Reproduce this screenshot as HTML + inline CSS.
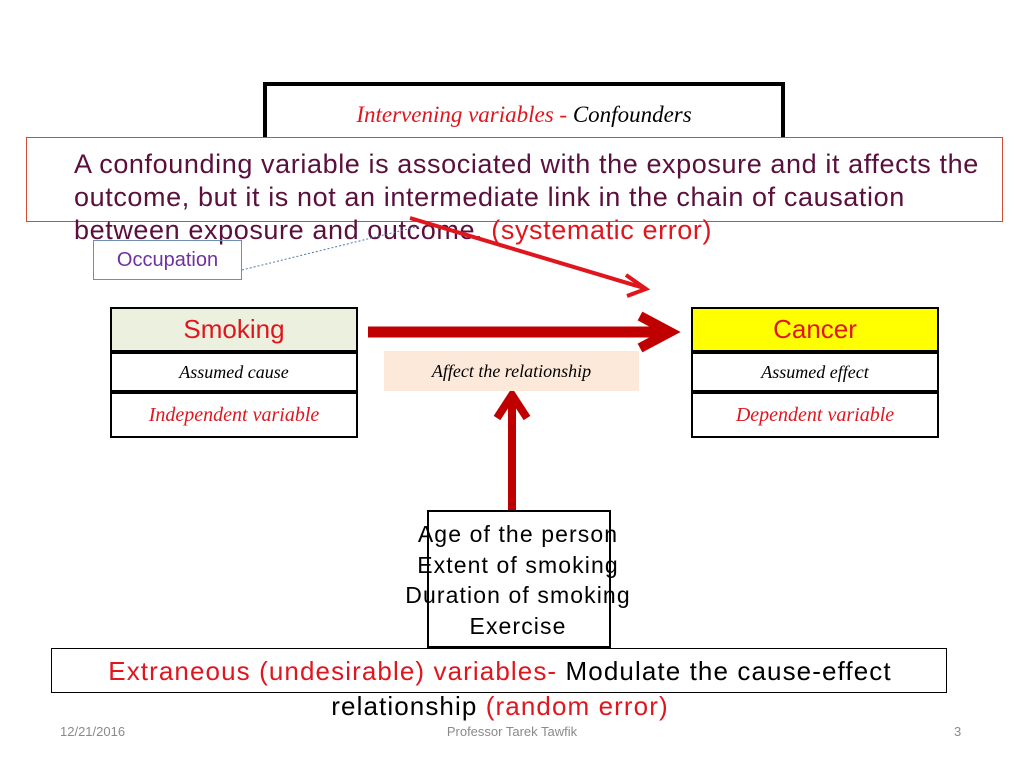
<!DOCTYPE html>
<html><head><meta charset="utf-8"><style>
body{margin:0;width:1024px;height:768px;background:#fff;position:relative;overflow:hidden;font-family:"Liberation Sans",sans-serif}
.a{position:absolute;box-sizing:border-box}
.c{display:flex;align-items:center;justify-content:center;text-align:center}
.serif{font-family:"Liberation Serif",serif;font-style:italic}
.red{color:#e0161e}
</style></head><body>
<div class="a c serif" style="left:263px;top:82px;width:522px;height:70px;border:4px solid #000;align-items:flex-start;padding-top:16px;font-size:23px"><span><span class="red">Intervening variables - </span>Confounders</span></div>
<div class="a" style="left:26px;top:137px;width:977px;height:85px;border:1px solid #d05030;background:#fff"></div>
<div class="a" style="left:74px;top:148px;width:960px;font-size:27px;line-height:33px;color:#5a0f3c;letter-spacing:0.6px;white-space:nowrap">A confounding variable is associated with the exposure and it affects the<br>outcome, but it is not an intermediate link in the chain of causation<br>between exposure and outcome. <span class="red">(systematic error)</span></div>
<div class="a c" style="left:93px;top:240px;width:149px;height:40px;border:1px solid #6f8fb0;color:#7030a0;font-size:20px">Occupation</div>
<svg class="a" style="left:0;top:0" width="1024" height="768">
<line x1="242" y1="270" x2="420" y2="226" stroke="#4a7ab0" stroke-width="1" stroke-dasharray="2,2"/>
<line x1="410" y1="218" x2="644" y2="288" stroke="#e0161e" stroke-width="4"/>
<polyline points="626,275 646,289 627,296" fill="none" stroke="#e0161e" stroke-width="4"/>
<line x1="368" y1="332" x2="668" y2="332" stroke="#c00000" stroke-width="11"/>
<polyline points="640,316 670,332 640,348" fill="none" stroke="#c00000" stroke-width="10" stroke-linejoin="miter"/>
<line x1="512" y1="512" x2="512" y2="398" stroke="#c00000" stroke-width="8"/>
<polyline points="497,418 512,395 527,418" fill="none" stroke="#c00000" stroke-width="8"/>
</svg>
<div class="a c" style="left:110px;top:307px;width:248px;height:45px;border:2px solid #000;background:#ebf1de;color:#e0161e;font-size:26px">Smoking</div>
<div class="a c serif" style="left:110px;top:352px;width:248px;height:40px;border:2px solid #000;font-size:18px">Assumed cause</div>
<div class="a c serif red" style="left:110px;top:392px;width:248px;height:46px;border:2px solid #000;font-size:20px">Independent variable</div>
<div class="a c" style="left:691px;top:307px;width:248px;height:45px;border:2px solid #000;background:#ffff00;color:#e0161e;font-size:26px">Cancer</div>
<div class="a c serif" style="left:691px;top:352px;width:248px;height:40px;border:2px solid #000;font-size:18px">Assumed effect</div>
<div class="a c serif red" style="left:691px;top:392px;width:248px;height:46px;border:2px solid #000;font-size:20px">Dependent variable</div>
<div class="a c serif" style="left:384px;top:351px;width:255px;height:40px;background:#fde9d9;font-size:18px">Affect the relationship</div>
<div class="a" style="left:427px;top:510px;width:184px;height:138px;border:2px solid #000"></div>
<div class="a" style="left:368px;top:519px;width:300px;text-align:center;font-size:23px;line-height:30.5px;letter-spacing:1.1px;white-space:nowrap">Age of the person<br>Extent of smoking<br>Duration of smoking<br>Exercise</div>
<div class="a" style="left:51px;top:648px;width:896px;height:45px;border:1px solid #000;background:#fff"></div>
<div class="a" style="left:0px;top:654px;width:1000px;text-align:center;font-size:26px;line-height:35px;letter-spacing:1.1px;white-space:nowrap"><span class="red">Extraneous (undesirable) variables-</span> Modulate the cause-effect<br>relationship <span class="red">(random error)</span></div>
<div class="a" style="left:60px;top:724px;font-size:13px;color:#8a8a8a">12/21/2016</div>
<div class="a" style="left:412px;top:724px;width:200px;text-align:center;font-size:13px;color:#8a8a8a">Professor Tarek Tawfik</div>
<div class="a" style="left:954px;top:724px;font-size:13px;color:#8a8a8a">3</div>
</body></html>
